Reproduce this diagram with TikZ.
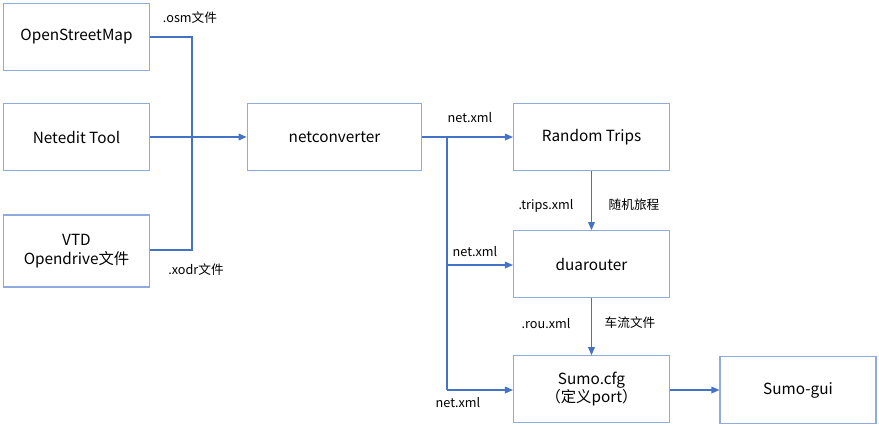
\documentclass[tikz,border=0pt]{standalone}
\usepackage{fontspec}
\setmainfont{Noto Sans CJK SC}
\usetikzlibrary{arrows.meta,positioning}
\definecolor{boxline}{RGB}{143,170,220}
\definecolor{flow}{RGB}{68,114,196}
\begin{document}
\begin{tikzpicture}[x=0.75pt,y=-0.75pt,
  box/.style = {draw=boxline, line width=0.8pt, fill=white,
  minimum width=117pt, minimum height=50pt, align=center, font=\fontsize{11.5}{14}\selectfont},
  src/.style = {box, minimum width=110pt},
  lbl/.style = {font=\fontsize{9.5}{11}\selectfont},
  link/.style = {draw=flow, line width=0.9pt},
  >={Triangle[length=6pt,width=5pt]}]
  \useasboundingbox (0,0) rectangle (879,426);
  \node[src] (osm) at (76.5,37) {OpenStreetMap};
  \node[src] (netedit) at (76.5,137) {Netedit Tool};
  \node[src, minimum height=54pt] (vtd) at (76.5,251) {VTD\\Opendrive文件};
  \node[box, minimum width=131pt] (netconv) at (334.5,137) {netconverter};
  \node[box] (random) at (591.5,137) {Random Trips};
  \node[box] (duar) at (591.5,264) {duarouter};
  \node[box] (cfg) at (591.5,389) {Sumo.cfg\\（定义port）};
  \node[box] (gui) at (798,390) {Sumo-gui};
  \coordinate (m1) at (192,37);
  \coordinate (m2) at (192,250);
  \coordinate (s1) at (447,137);
  \coordinate (s2) at (447,265);
  \coordinate (s3) at (447,390);
  % inputs
  \draw[link] (osm.east) -- (m1) -- (m2) -- (vtd.east |- m2);
  \draw[link,->] (netedit) -- (netconv);
  % outputs of netconverter
  \draw[link,->] (netconv) -- (random);
  \draw[link] (s1) -- (s3);
  \draw[link,->] (s2) -- (duar.west |- s2);
  \draw[link,->] (s3) -- (cfg.west |- s3);
  \draw[link,->] (random) -- (duar);
  \draw[link,->] (duar) -- (cfg);
  \draw[link,->] (cfg.east |- s3) -- (gui.west |- s3);
  % labels
  \node[lbl] at (190,18) {.osm文件};
  \node[lbl] at (196,270) {.xodr文件};
  \node[lbl] at (470,118) {net.xml};
  \node[lbl] at (546,206) {.trips.xml};
  \node[lbl] at (634,205) {随机旅程};
  \node[lbl] at (475,252) {net.xml};
  \node[lbl] at (546,324) {.rou.xml};
  \node[lbl] at (630,323) {车流文件};
  \node[lbl] at (458,403) {net.xml};
\end{tikzpicture}
\end{document}
